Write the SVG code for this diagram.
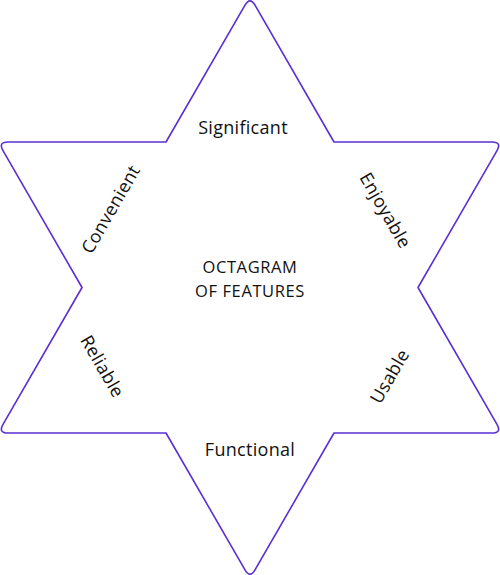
<svg xmlns="http://www.w3.org/2000/svg" width="500" height="575" viewBox="0 0 500 575">
<style>
.star{fill:#ffffff;stroke:#5a2fd4;stroke-width:1.6;stroke-linejoin:round}
.lbl{font-family:"Open Sans","Noto Sans",sans-serif;font-size:18px;fill:#111;text-anchor:middle;dominant-baseline:central;letter-spacing:0.3px}
.ctr{font-family:"Open Sans","Noto Sans",sans-serif;font-size:16.5px;fill:#111;text-anchor:middle;dominant-baseline:central;letter-spacing:0.6px}
</style>
<rect width="500" height="575" fill="#ffffff"/>
<g id="star">
<path class="star" d="M245,5.16 Q250,-3.5 255,5.16 L334,142 L492,142 Q502,142 497,150.66 L418,287.5 L497,424.34 Q502,433 492,433 L334,433 L255,569.84 Q250,578.5 245,569.84 L166,433 L8,433 Q-2,433 3,424.34 L82,287.5 L3,150.66 Q-2,142 8,142 L166,142 Z"/>
</g>
<g id="connectors"></g>
<g id="center"><text class="ctr" x="250" y="266">OCTAGRAM</text><text class="ctr" x="250" y="290">OF FEATURES</text></g>
<g id="significant"><text class="lbl" x="243" y="127">Significant</text></g>
<g id="functional"><text class="lbl" x="250" y="449">Functional</text></g>
<g id="convenient"><text class="lbl" transform="translate(110,209) rotate(-60)">Convenient</text></g>
<g id="enjoyable"><text class="lbl" transform="translate(386,210) rotate(60)">Enjoyable</text></g>
<g id="reliable"><text class="lbl" transform="translate(103,366) rotate(60)">Reliable</text></g>
<g id="usable"><text class="lbl" transform="translate(389,376) rotate(-60)">Usable</text></g>
</svg>
